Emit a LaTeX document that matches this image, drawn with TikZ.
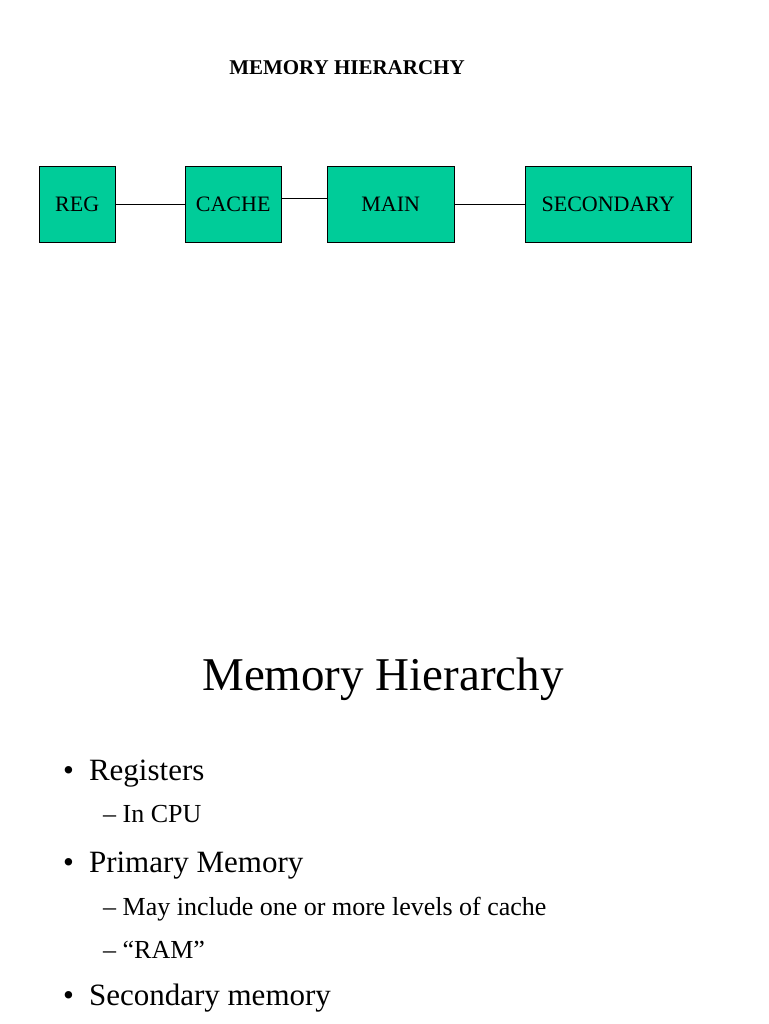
\documentclass[tikz,border=0pt]{standalone}
\usepackage{fontspec}
\setmainfont{Liberation Serif}
\definecolor{boxg}{HTML}{00CC99}
\begin{document}
\begin{tikzpicture}[x=1pt,y=-1pt,
  mbox/.style={draw=black,fill=boxg,minimum height=76pt,inner sep=0pt,font=\fontsize{22}{24}\selectfont,anchor=north west},
  bul/.style={anchor=base west,inner sep=0pt,font=\fontsize{31}{34}\selectfont},
  sub/.style={anchor=base west,inner sep=0pt,font=\fontsize{26}{30}\selectfont}]
\useasboundingbox (0,0) rectangle (768,1024);
\node[font=\bfseries\fontsize{21}{24}\selectfont] (t) at (347,68) {MEMORY HIERARCHY};
\node[mbox,minimum width=76pt] (reg) at (39,166) {REG};
\node[mbox,minimum width=96pt] (cache) at (185,166) {CACHE};
\node[mbox,minimum width=127pt] (main) at (327,166) {MAIN};
\node[mbox,minimum width=166pt] (sec) at (525,166) {SECONDARY};
\draw (reg.east |- 0,204) -- (cache.west |- 0,204);
\draw (cache.east |- 0,198) -- (main.west |- 0,198);
\draw (main.east |- 0,204) -- (sec.west |- 0,204);
\node[font=\fontsize{47}{50}\selectfont] (h) at (383,679) {Memory Hierarchy};
\node[bul] (b1) at (63,780) {•\hspace{15pt}Registers};
\node[sub] (s1) at (103,822) {– In CPU};
\node[bul] (b2) at (63,872) {•\hspace{15pt}Primary Memory};
\node[sub] (s2) at (103,915) {– May include one or more levels of cache};
\node[sub] (s3) at (103,958) {– “RAM”};
\node[bul] (b3) at (63,1005) {•\hspace{15pt}Secondary memory};
\end{tikzpicture}
\end{document}
